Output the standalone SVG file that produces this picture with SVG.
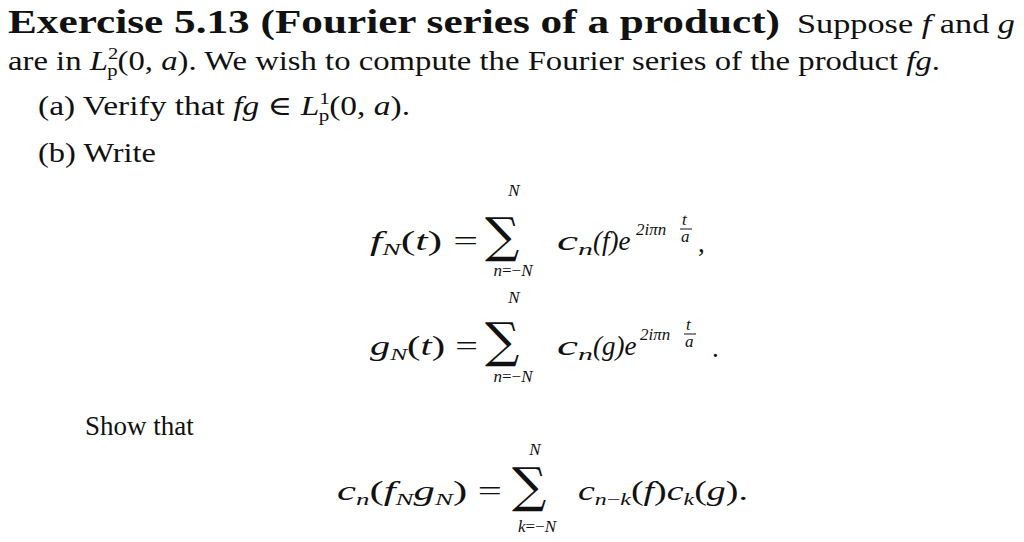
<svg xmlns="http://www.w3.org/2000/svg" width="1024" height="542" viewBox="0 0 1024 542">
<style>
text{font-family:"Liberation Serif","DejaVu Serif",serif;fill:#111}
.t{font-size:27px}
.i{font-style:italic}
.s{font-size:17px}
.sig{font-size:48px;font-family:"DejaVu Serif",serif}
</style>
<rect width="1024" height="542" fill="#fff"/>
<text x="8" y="33" font-size="34" font-weight="bold" font-family="DejaVu Serif" textLength="772" lengthAdjust="spacingAndGlyphs">Exercise 5.13 (Fourier series of a product)</text>
<text x="797" y="33" class="t" textLength="218" lengthAdjust="spacingAndGlyphs">Suppose <tspan class="i">f</tspan> and <tspan class="i">g</tspan></text>
<text x="8" y="70" class="t" textLength="932" lengthAdjust="spacingAndGlyphs">are in <tspan class="i">L</tspan><tspan font-size="17" dy="-11">2</tspan><tspan font-size="17" dx="-9" dy="17">p</tspan><tspan dy="-6">(0, <tspan class="i">a</tspan>). We wish to compute the Fourier series of the product <tspan class="i">fg</tspan>.</tspan></text>
<text x="38" y="115" class="t" textLength="372" lengthAdjust="spacingAndGlyphs">(a)  Verify that <tspan class="i">fg</tspan> ∈ <tspan class="i">L</tspan><tspan font-size="17" dy="-11">1</tspan><tspan font-size="17" dx="-9" dy="17">p</tspan><tspan dy="-6">(0, <tspan class="i">a</tspan>).</tspan></text>
<text x="38" y="162" class="t" textLength="118" lengthAdjust="spacingAndGlyphs">(b)  Write</text>

<text x="370" y="250" class="t i" textLength="108" lengthAdjust="spacingAndGlyphs">f<tspan class="s" dy="5">N</tspan><tspan dy="-5" font-style="normal">(</tspan>t<tspan font-style="normal">) =</tspan></text>
<text x="514" y="196" class="s i" text-anchor="middle">N</text>
<text x="485" y="252" class="sig">∑</text>
<text x="513" y="276" class="s i" text-anchor="middle">n<tspan font-style="normal">=−</tspan>N</text>
<text x="557" y="250" class="t i" textLength="36" lengthAdjust="spacingAndGlyphs">c<tspan class="s" dy="5">n</tspan></text>
<text x="593" y="250" class="t i">(f)e</text>
<text x="636" y="235" class="s i">2iπn</text>
<text x="682" y="225" class="s i">t</text><line x1="680" y1="229" x2="692" y2="229" stroke="#111" stroke-width="1"/><text x="681" y="242" class="s i">a</text>
<text x="698" y="252" class="t">,</text>

<text x="370" y="355" class="t i" textLength="108" lengthAdjust="spacingAndGlyphs">g<tspan class="s" dy="5">N</tspan><tspan dy="-5" font-style="normal">(</tspan>t<tspan font-style="normal">) =</tspan></text>
<text x="514" y="303" class="s i" text-anchor="middle">N</text>
<text x="485" y="357" class="sig">∑</text>
<text x="513" y="382" class="s i" text-anchor="middle">n<tspan font-style="normal">=−</tspan>N</text>
<text x="557" y="355" class="t i" textLength="36" lengthAdjust="spacingAndGlyphs">c<tspan class="s" dy="5">n</tspan></text>
<text x="593" y="355" class="t i">(g)e</text>
<text x="640" y="340" class="s i">2iπn</text>
<text x="686" y="330" class="s i">t</text><line x1="684" y1="334" x2="696" y2="334" stroke="#111" stroke-width="1"/><text x="685" y="347" class="s i">a</text>
<text x="712" y="357" class="t">.</text>

<text x="85" y="435" class="t">Show that</text>

<text x="337" y="500" class="t i" textLength="165" lengthAdjust="spacingAndGlyphs">c<tspan class="s" dy="5">n</tspan><tspan dy="-5" font-style="normal">(</tspan>f<tspan class="s" dy="5">N</tspan><tspan dy="-5">g</tspan><tspan class="s" dy="5">N</tspan><tspan dy="-5" font-style="normal">) =</tspan></text>
<text x="535" y="455" class="s i" text-anchor="middle">N</text>
<text x="512" y="502" class="sig">∑</text>
<text x="537" y="532" class="s i" text-anchor="middle">k<tspan font-style="normal">=−</tspan>N</text>
<text x="578" y="500" class="t i" textLength="170" lengthAdjust="spacingAndGlyphs">c<tspan class="s" dy="5">n<tspan font-style="normal">−</tspan>k</tspan><tspan dy="-5" font-style="normal">(</tspan>f<tspan font-style="normal">)</tspan>c<tspan class="s" dy="5">k</tspan><tspan dy="-5" font-style="normal">(</tspan>g<tspan font-style="normal">).</tspan></text>
</svg>
